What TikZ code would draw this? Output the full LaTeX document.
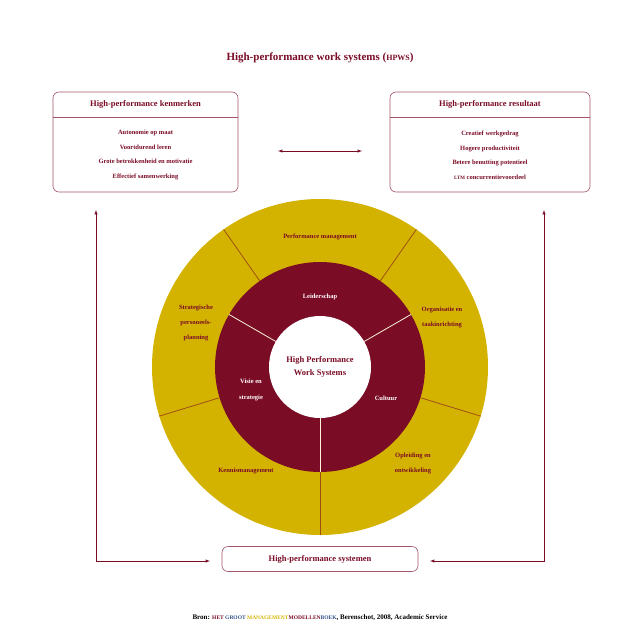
\documentclass[tikz,border=0pt]{standalone}
\usepackage{fontspec}
\setmainfont{Liberation Serif}
\usepackage{tikz}
\usetikzlibrary{positioning}
\definecolor{hpred}{HTML}{7A0C26}
\definecolor{hpgold}{HTML}{D4B300}
\definecolor{hpblue}{HTML}{2F4F8A}
\tikzset{box/.style={draw=hpred!70,rounded corners=6pt,line width=0.6pt},
         lbl/.style={text=hpred,font=\fontsize{6.5}{15}\selectfont\bfseries,align=center},
         head/.style={text=hpred,font=\fontsize{8.5}{10}\selectfont\bfseries},
         inlbl/.style={text=white,font=\fontsize{6.5}{16}\selectfont\bfseries,align=center},
         conn/.style={draw=hpred,line width=0.5pt,latex-latex},
         sep/.style={draw=#1,line width=0.8pt}}

\begin{document}
\begin{tikzpicture}[x=1pt,y=-1pt]
  \useasboundingbox (0,0) rectangle (640,640);
  \node[head,font=\fontsize{11}{13}\selectfont\bfseries] (title) at (320,58)
    {High-performance work systems ({\fontsize{8}{9}\selectfont HPWS})};
  % wheel (y axis points down, so angles are negated)
  \coordinate (c) at (320,367);
  \fill[hpgold] (c) circle (168);
  \fill[hpred] (c) circle (105);
  \fill[white] (c) circle (51);
  \foreach \a in {55,125,197,270,343}
    \draw[sep=hpred!60!hpgold] (c) ++(-\a:105) -- ++(-\a:63);
  \foreach \a in {30,150,270}
    \draw[sep=white!85!hpgold] (c) ++(-\a:51) -- ++(-\a:54);
  \node[lbl,font=\fontsize{8.5}{13}\selectfont\bfseries] (hpws) at (c) {High Performance\\Work Systems};
  \node[inlbl] (leid) at (320,297) {Leiderschap};
  \node[inlbl] (visie) at (251,390) {Visie en\\strategie};
  \node[inlbl] (cult) at (386,398) {Cultuur};
  \node[lbl] (pm) at (320,237) {Performance management};
  \node[lbl] (strat) at (196,323) {Strategische\\personeels-\\planning};
  \node[lbl] (org) at (442,317) {Organisatie en\\taakinrichting};
  \node[lbl] (kennis) at (246,471) {Kennismanagement};
  \node[lbl] (opl) at (413,463) {Opleiding en\\ontwikkeling};
  % boxes
  \draw[box] (53,92) rectangle (238,192);
  \draw[draw=hpred!70,line width=0.5pt] (53,117) -- (238,117);
  \node[head] (kenm) at (145.5,104) {High-performance kenmerken};
  \node[lbl,font=\fontsize{6.5}{14.5}\selectfont\bfseries] (kenmtxt) at (145.5,155)
    {Autonomie op maat\\Voortdurend leren\\Grote betrokkenheid en motivatie\\Effectief samenwerking};
  \draw[box] (390,92) rectangle (590,192);
  \draw[draw=hpred!70,line width=0.5pt] (390,117) -- (590,117);
  \node[head] (res) at (490,104) {High-performance resultaat};
  \node[lbl,font=\fontsize{6.5}{14.5}\selectfont\bfseries] (restxt) at (490,155)
    {Creatief werkgedrag\\Hogere productiviteit\\Betere benutting potentieel\\{\fontsize{5}{6}\selectfont LTM} concurrentievoordeel};
  \node[box,minimum width=196pt,minimum height=25pt,head] (sys) at (320,559) {High-performance systemen};
  % connectors
  \coordinate (ml) at (278,151);
  \coordinate (mr) at (362,151);
  \draw[conn] (ml) -- (mr);
  \coordinate (lt) at (96,210);
  \coordinate (rt) at (544,210);
  \coordinate (lb) at (210,561);
  \coordinate (rb) at (430,561);
  \draw[conn] (lb) -| (lt);
  \draw[conn] (rb) -| (rt);
  \node[font=\fontsize{7}{8}\selectfont\bfseries] (bron) at (320,618)
    {Bron: {\fontsize{5.5}{6}\selectfont\color{hpred}HET \color{hpblue}GROOT \color{hpgold}MANAGEMENT\color{hpred}MODELLEN\color{hpblue}BOEK}, Berenschot, 2008, Academic Service};
\end{tikzpicture}
\end{document}
